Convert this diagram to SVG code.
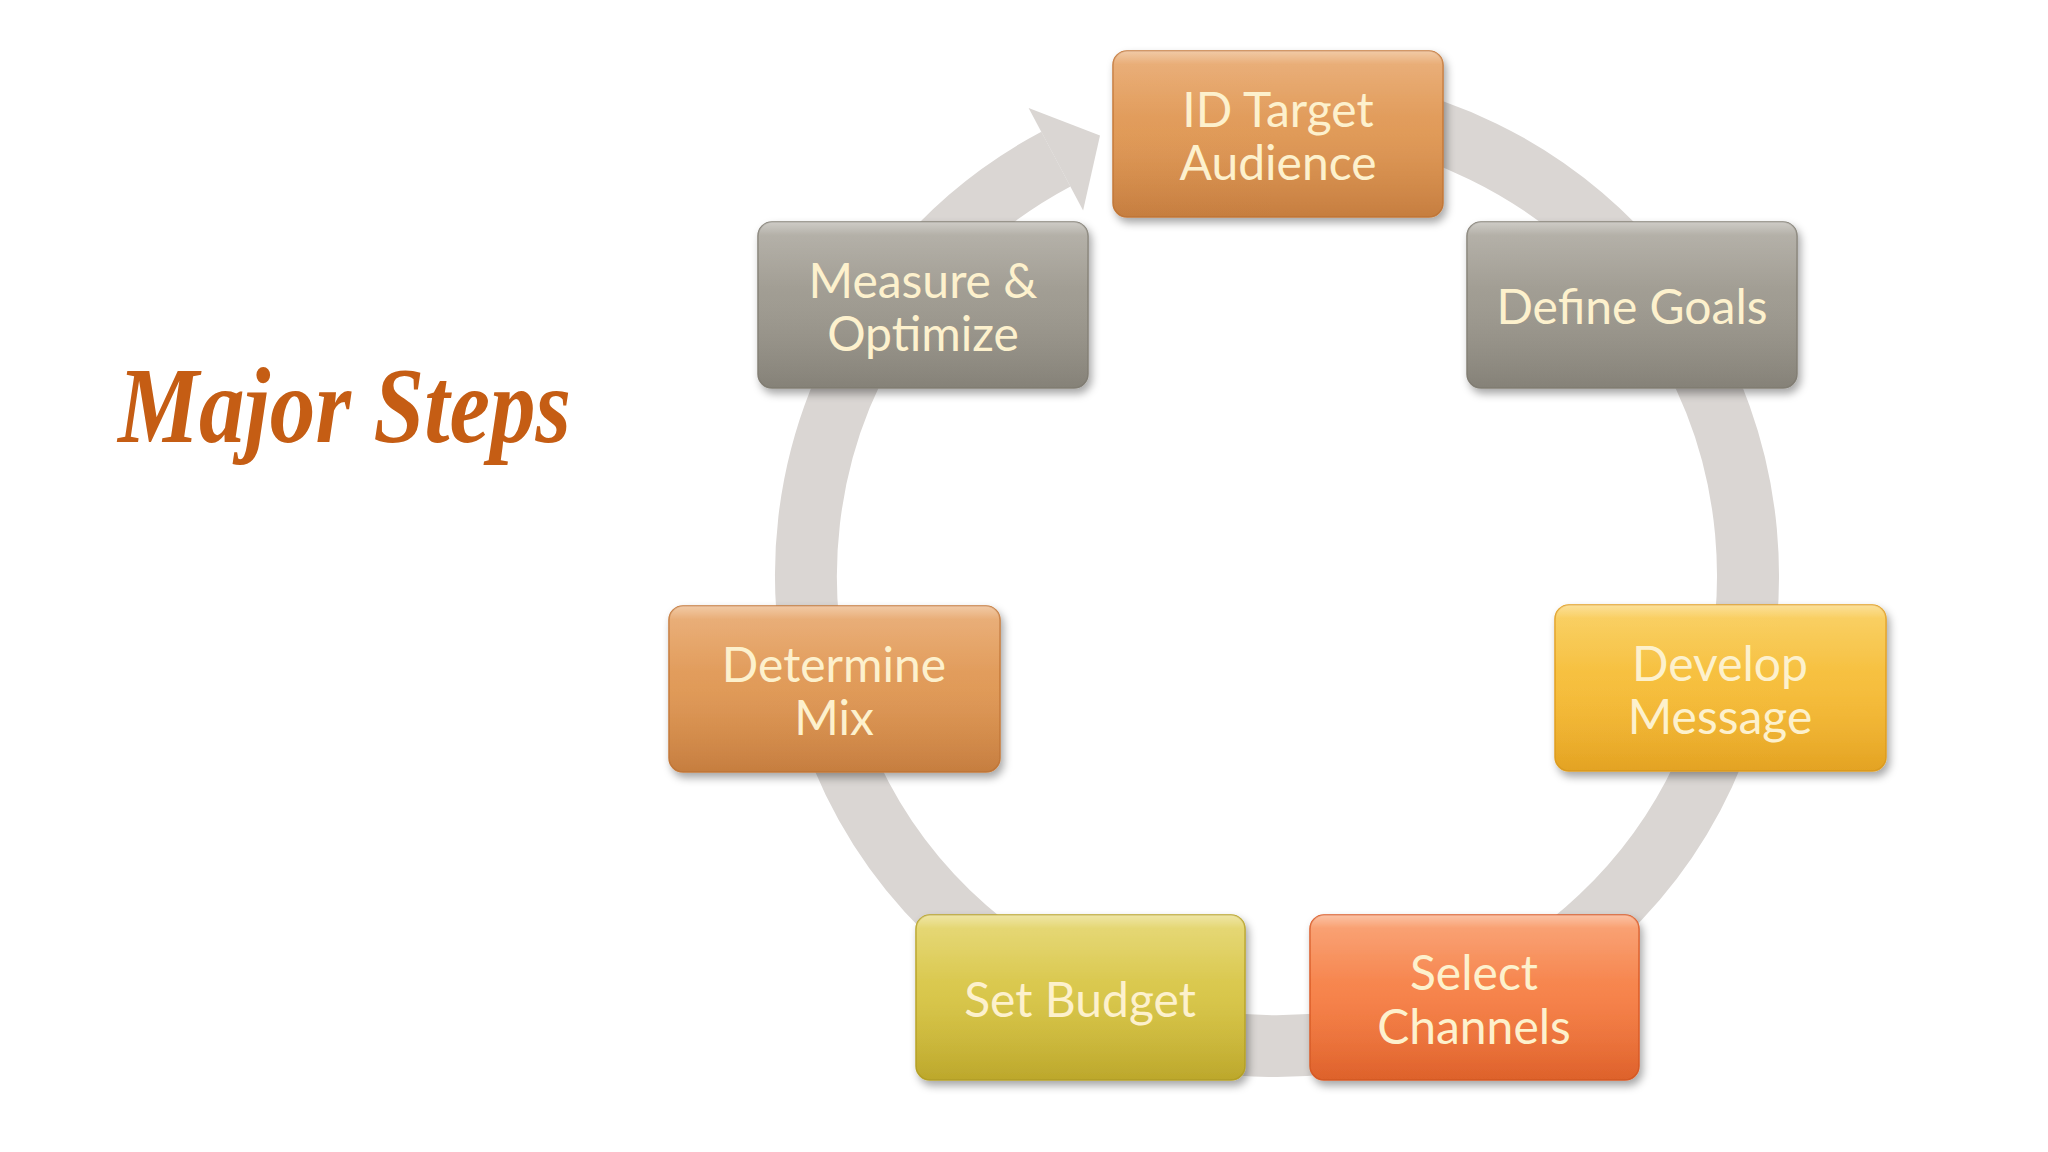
<svg xmlns="http://www.w3.org/2000/svg" width="2048" height="1152" viewBox="0 0 2048 1152">
  <defs>
    <style>
      .ring { fill: none; stroke: #dad6d3; stroke-width: 62; }
      .head { fill: #dad6d3; }
      .box { stroke-width: 1.5; filter: url(#shadow); }
      .gloss { fill: url(#gloss); }
      .lbl { font-family: Lato, "Liberation Sans", sans-serif; font-size: 48px; fill: #fdf1cd; text-anchor: middle; }
      .title { font-family: "Liberation Serif", serif; font-style: italic; font-weight: bold; font-size: 108px; fill: #c55d14; }
    </style>
    <filter id="shadow" x="-10%" y="-10%" width="125%" height="130%">
      <feDropShadow dx="3" dy="5" stdDeviation="4" flood-color="#000" flood-opacity="0.35"/>
    </filter>
    <linearGradient id="gloss" x1="0" y1="0" x2="0" y2="1">
      <stop offset="0" stop-color="#fff" stop-opacity="0.4"/>
      <stop offset="0.08" stop-color="#fff" stop-opacity="0.1"/>
      <stop offset="0.4" stop-color="#fff" stop-opacity="0"/>
      <stop offset="1" stop-color="#000" stop-opacity="0.05"/>
    </linearGradient>
    <linearGradient id="gOrange" x1="0" y1="0" x2="0" y2="1">
      <stop offset="0" stop-color="#e8a76c"/>
      <stop offset="0.5" stop-color="#e09a58"/>
      <stop offset="1" stop-color="#d08442"/>
    </linearGradient>
    <linearGradient id="gGray" x1="0" y1="0" x2="0" y2="1">
      <stop offset="0" stop-color="#aeaaa1"/>
      <stop offset="0.5" stop-color="#9f9b91"/>
      <stop offset="1" stop-color="#8c887e"/>
    </linearGradient>
    <linearGradient id="gYellow" x1="0" y1="0" x2="0" y2="1">
      <stop offset="0" stop-color="#f9cc55"/>
      <stop offset="0.5" stop-color="#f6be3c"/>
      <stop offset="1" stop-color="#efab24"/>
    </linearGradient>
    <linearGradient id="gOlive" x1="0" y1="0" x2="0" y2="1">
      <stop offset="0" stop-color="#e4d56a"/>
      <stop offset="0.5" stop-color="#d8c64a"/>
      <stop offset="1" stop-color="#c6b02d"/>
    </linearGradient>
    <linearGradient id="gRed" x1="0" y1="0" x2="0" y2="1">
      <stop offset="0" stop-color="#f99a68"/>
      <stop offset="0.5" stop-color="#f6824a"/>
      <stop offset="1" stop-color="#e9662c"/>
    </linearGradient>
  </defs>

  <rect x="0" y="0" width="2048" height="1152" fill="#ffffff"/>

  <text class="title" x="118" y="442" textLength="453" lengthAdjust="spacingAndGlyphs">Major Steps</text>

  <g id="connectors">
    <path class="ring" d="M 1277 104 A 471 471 0 1 1 1055.9 159.1"/>
    <polygon class="head" points="1028.6,107.9 1100,135.6 1083.1,210.4"/>
  </g>

  <g id="node-id-target-audience">
    <rect class="box" x="1113" y="51" width="330" height="166" rx="14" fill="url(#gOrange)" stroke="#c67a3a"/>
    <rect class="gloss" x="1113" y="51" width="330" height="166" rx="14"/>
    <text class="lbl" x="1278" y="127">ID Target</text>
    <text class="lbl" x="1278" y="180">Audience</text>
  </g>

  <g id="node-define-goals">
    <rect class="box" x="1467" y="222" width="330" height="166" rx="14" fill="url(#gGray)" stroke="#858177"/>
    <rect class="gloss" x="1467" y="222" width="330" height="166" rx="14"/>
    <text class="lbl" x="1632" y="324">Define Goals</text>
  </g>

  <g id="node-develop-message">
    <rect class="box" x="1555" y="605" width="331" height="166" rx="14" fill="url(#gYellow)" stroke="#e2a020"/>
    <rect class="gloss" x="1555" y="605" width="331" height="166" rx="14"/>
    <text class="lbl" x="1720" y="681">Develop</text>
    <text class="lbl" x="1720" y="734">Message</text>
  </g>

  <g id="node-select-channels">
    <rect class="box" x="1310" y="915" width="329" height="165" rx="14" fill="url(#gRed)" stroke="#dc5c26"/>
    <rect class="gloss" x="1310" y="915" width="329" height="165" rx="14"/>
    <text class="lbl" x="1474" y="990">Select</text>
    <text class="lbl" x="1474" y="1044">Channels</text>
  </g>

  <g id="node-set-budget">
    <rect class="box" x="916" y="915" width="329" height="165" rx="14" fill="url(#gOlive)" stroke="#b9a428"/>
    <rect class="gloss" x="916" y="915" width="329" height="165" rx="14"/>
    <text class="lbl" x="1080" y="1017">Set Budget</text>
  </g>

  <g id="node-determine-mix">
    <rect class="box" x="669" y="606" width="331" height="166" rx="14" fill="url(#gOrange)" stroke="#c67a3a"/>
    <rect class="gloss" x="669" y="606" width="331" height="166" rx="14"/>
    <text class="lbl" x="834" y="682">Determine</text>
    <text class="lbl" x="834" y="735">Mix</text>
  </g>

  <g id="node-measure-optimize">
    <rect class="box" x="758" y="222" width="330" height="166" rx="14" fill="url(#gGray)" stroke="#858177"/>
    <rect class="gloss" x="758" y="222" width="330" height="166" rx="14"/>
    <text class="lbl" x="923" y="298">Measure &amp;</text>
    <text class="lbl" x="923" y="351">Optimize</text>
  </g>
</svg>
